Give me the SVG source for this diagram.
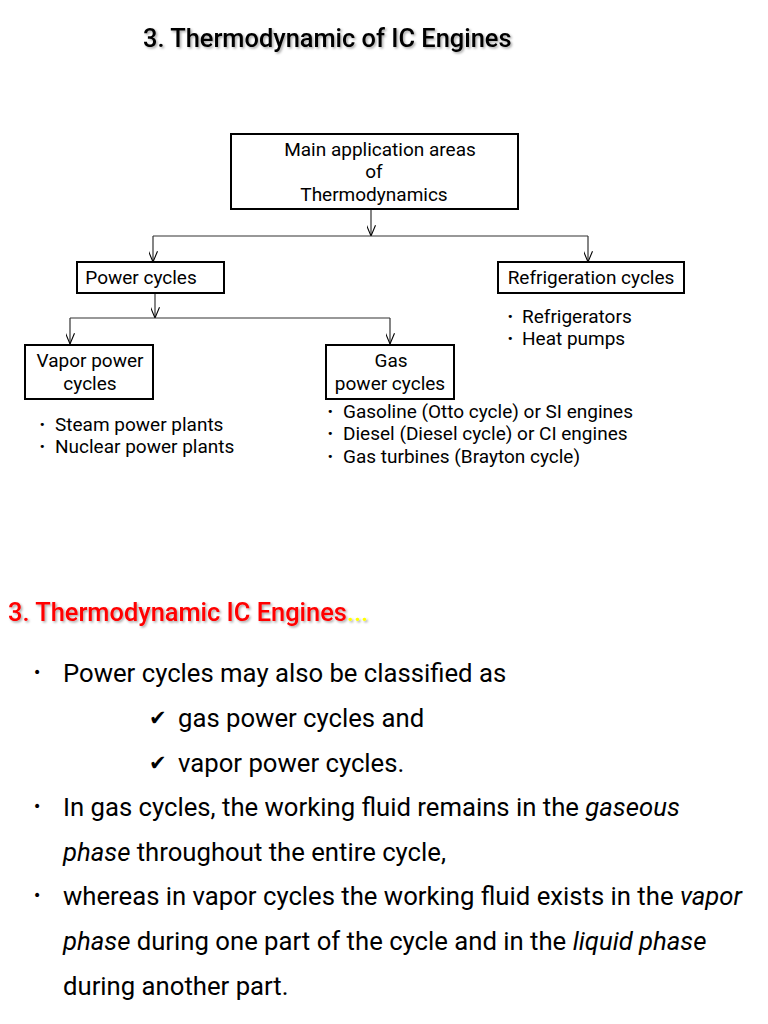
<svg xmlns="http://www.w3.org/2000/svg" width="768" height="1024" viewBox="0 0 768 1024">
<defs>
<filter id="sh" x="-5%" y="-20%" width="110%" height="150%">
<feDropShadow dx="1.5" dy="1.5" stdDeviation="1" flood-color="#000" flood-opacity="0.35"/>
</filter>
<marker id="ar" viewBox="0 0 12 10" refX="12" refY="5" markerWidth="11" markerHeight="9" markerUnits="userSpaceOnUse" orient="auto">
<path d="M0,0 L12,5 L0,10" fill="none" stroke="#000" stroke-width="1.2"/>
</marker>
</defs>
<style>
.t{font-family:Roboto,"Liberation Sans",sans-serif;fill:#000}
.h{font-size:25.4px;font-weight:500}
.d{font-size:19px}
.b{font-size:25.7px}
.box{fill:#fff;stroke:#000;stroke-width:2}
.ln{fill:none;stroke:#333;stroke-width:1.2}
.bl{font-family:"DejaVu Sans",sans-serif;font-size:11px;fill:#000}
.ck{font-family:"DejaVu Sans",sans-serif;font-size:21px;fill:#000}
</style>
<rect width="768" height="1024" fill="#fff"/>

<text class="t h" x="143" y="47" filter="url(#sh)">3. Thermodynamic of IC Engines</text>

<g id="connectors">
<path class="ln" d="M371,210 V236" marker-end="url(#ar)"/>
<path class="ln" d="M153,236 H588"/>
<path class="ln" d="M153,236 V262" marker-end="url(#ar)"/>
<path class="ln" d="M588,236 V262" marker-end="url(#ar)"/>
<path class="ln" d="M155,294 V318" marker-end="url(#ar)"/>
<path class="ln" d="M70,318 H390"/>
<path class="ln" d="M70,318 V344" marker-end="url(#ar)"/>
<path class="ln" d="M390,318 V344" marker-end="url(#ar)"/>
</g>

<g id="main">
<rect class="box" x="231" y="134" width="287" height="75"/>
<text class="t d" x="380" y="156" text-anchor="middle">Main application areas</text>
<text class="t d" x="374" y="178" text-anchor="middle">of</text>
<text class="t d" x="374" y="201" text-anchor="middle">Thermodynamics</text>
</g>

<g id="power">
<rect class="box" x="77" y="262" width="147" height="31"/>
<text class="t d" x="141" y="284" text-anchor="middle">Power cycles</text>
</g>

<g id="refrig">
<rect class="box" x="498" y="262" width="186" height="31"/>
<text class="t d" x="591" y="284" text-anchor="middle">Refrigeration cycles</text>
<text class="bl" x="507" y="320">•</text>
<text class="t d" x="522" y="323">Refrigerators</text>
<text class="bl" x="507" y="342">•</text>
<text class="t d" x="522" y="345">Heat pumps</text>
</g>

<g id="vapor">
<rect class="box" x="25" y="345" width="128" height="54"/>
<text class="t d" x="90" y="367" text-anchor="middle">Vapor power</text>
<text class="t d" x="90" y="390" text-anchor="middle">cycles</text>
<text class="bl" x="39" y="428">•</text>
<text class="t d" x="55" y="431">Steam power plants</text>
<text class="bl" x="39" y="450">•</text>
<text class="t d" x="55" y="453">Nuclear power plants</text>
</g>

<g id="gas">
<rect class="box" x="326" y="345" width="128" height="54"/>
<text class="t d" x="391" y="367" text-anchor="middle">Gas</text>
<text class="t d" x="390" y="390" text-anchor="middle">power cycles</text>
<text class="bl" x="327" y="415">•</text>
<text class="t d" x="343" y="418">Gasoline (Otto cycle) or SI engines</text>
<text class="bl" x="327" y="437">•</text>
<text class="t d" x="343" y="440">Diesel (Diesel cycle) or CI engines</text>
<text class="bl" x="327" y="460">•</text>
<text class="t d" x="343" y="463">Gas turbines (Brayton cycle)</text>
</g>

<text class="t h" x="8" y="621" filter="url(#sh)"><tspan fill="#f00">3. Thermodynamic IC Engines</tspan><tspan fill="#ff0">...</tspan></text>

<g id="body">
<text class="bl" x="33" y="677" style="font-size:14px">•</text>
<text class="t b" x="63" y="682">Power cycles may also be classified as</text>
<text class="ck" x="149" y="725">✔</text>
<text class="t b" x="178" y="727">gas power cycles and</text>
<text class="ck" x="149" y="770">✔</text>
<text class="t b" x="178" y="772">vapor power cycles.</text>
<text class="bl" x="33" y="811" style="font-size:14px">•</text>
<text class="t b" x="63" y="816">In gas cycles, the working fluid remains in the <tspan font-style="italic">gaseous</tspan></text>
<text class="t b" x="63" y="861"><tspan font-style="italic">phase</tspan> throughout the entire cycle,</text>
<text class="bl" x="33" y="900" style="font-size:14px">•</text>
<text class="t b" x="63" y="905">whereas in vapor cycles the working fluid exists in the <tspan font-style="italic">vapor</tspan></text>
<text class="t b" x="63" y="950"><tspan font-style="italic">phase</tspan> during one part of the cycle and in the <tspan font-style="italic">liquid phase</tspan></text>
<text class="t b" x="63" y="995">during another part.</text>
</g>
</svg>
